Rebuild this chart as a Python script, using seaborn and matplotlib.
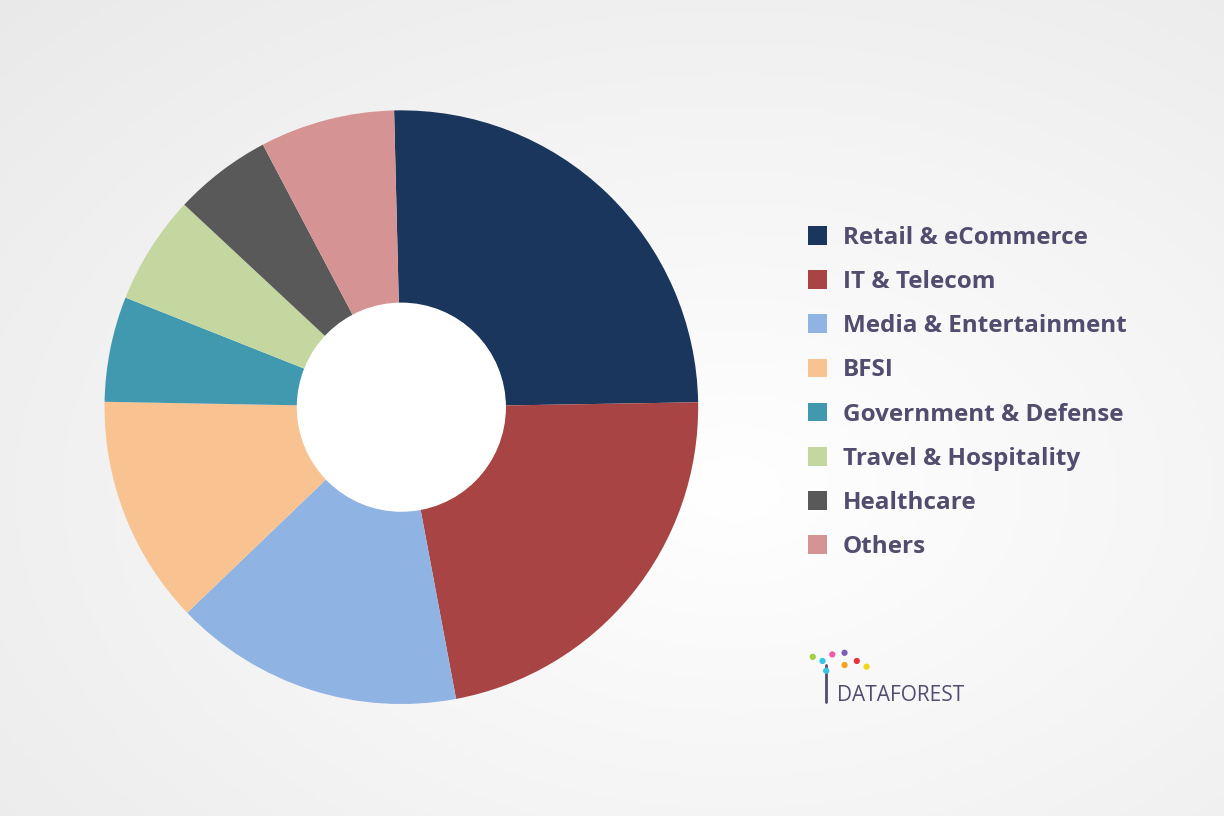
import matplotlib
matplotlib.use("Agg")
import matplotlib.pyplot as plt
from matplotlib.patches import Patch, Circle
import numpy as np
import seaborn as sns

sns.set_theme(style="white")
plt.rcParams['font.family'] = ['Open Sans', 'DejaVu Sans']

categories = ["Retail & eCommerce", "IT & Telecom", "Media & Entertainment", "BFSI",
              "Government & Defense", "Travel & Hospitality", "Healthcare", "Others"]
shares = [25.0, 22.2, 15.7, 12.4, 5.7, 5.9, 5.3, 7.3]
colors = ["#1a365d", "#a84544", "#8fb3e3", "#f9c291", "#4199b0", "#c5d7a0", "#595959", "#d59393"]

fig = plt.figure(figsize=(12.24, 8.16), dpi=100)

# background gradient
bg = fig.add_axes([0, 0, 1, 1])
yy, xx = np.mgrid[0:1:200j, 0:1:300j]
d = np.sqrt((xx - 0.6) ** 2 + (yy - 0.6) ** 2)
bg.imshow(np.dstack([1 - 0.1 * d] * 3), aspect="auto", extent=[0, 1, 0, 1])
bg.axis("off")

ax = fig.add_axes([0.328 - 0.2426, 0.501 - 0.364, 0.485, 0.728])
ax.pie(shares, colors=colors, startangle=91.4, counterclock=False, radius=1,
       wedgeprops=dict(width=0.653, linewidth=0))
ax.add_patch(Circle((0, 0), 0.35, color="white", zorder=5))
ax.set_xlim(-1, 1)
ax.set_ylim(-1, 1)
ax.set_aspect("equal")
ax.axis("off")

handles = [Patch(facecolor=c, edgecolor="none") for c in colors]
leg = fig.legend(handles, categories, loc="upper left", bbox_to_anchor=(0.642, 0.75),
                 frameon=False, handlelength=0.8, handleheight=0.8, handletextpad=0.65,
                 labelspacing=0.83, prop=dict(size=17.5, weight="bold"))
for t in leg.get_texts():
    t.set_color("#524d6e")

# logo
fig.text(0.684, 0.148, "DATAFOREST", fontsize=15, color="#524d6e", ha="left", va="center")
dots_x = [0.664, 0.672, 0.680, 0.690, 0.700, 0.708, 0.690, 0.675]
dots_y = [0.195, 0.19, 0.198, 0.185, 0.19, 0.183, 0.2, 0.178]
dots_c = ["#9fd13c", "#37c6e8", "#f15aa8", "#f7a21b", "#e8333c", "#f7d21b", "#7a5fb8", "#37c6e8"]
bg.scatter(dots_x, dots_y, s=12, c=dots_c, zorder=3)
bg.plot([0.675, 0.675], [0.14, 0.185], color="#524d6e", lw=2)

fig.savefig("out.png", dpi=100)
